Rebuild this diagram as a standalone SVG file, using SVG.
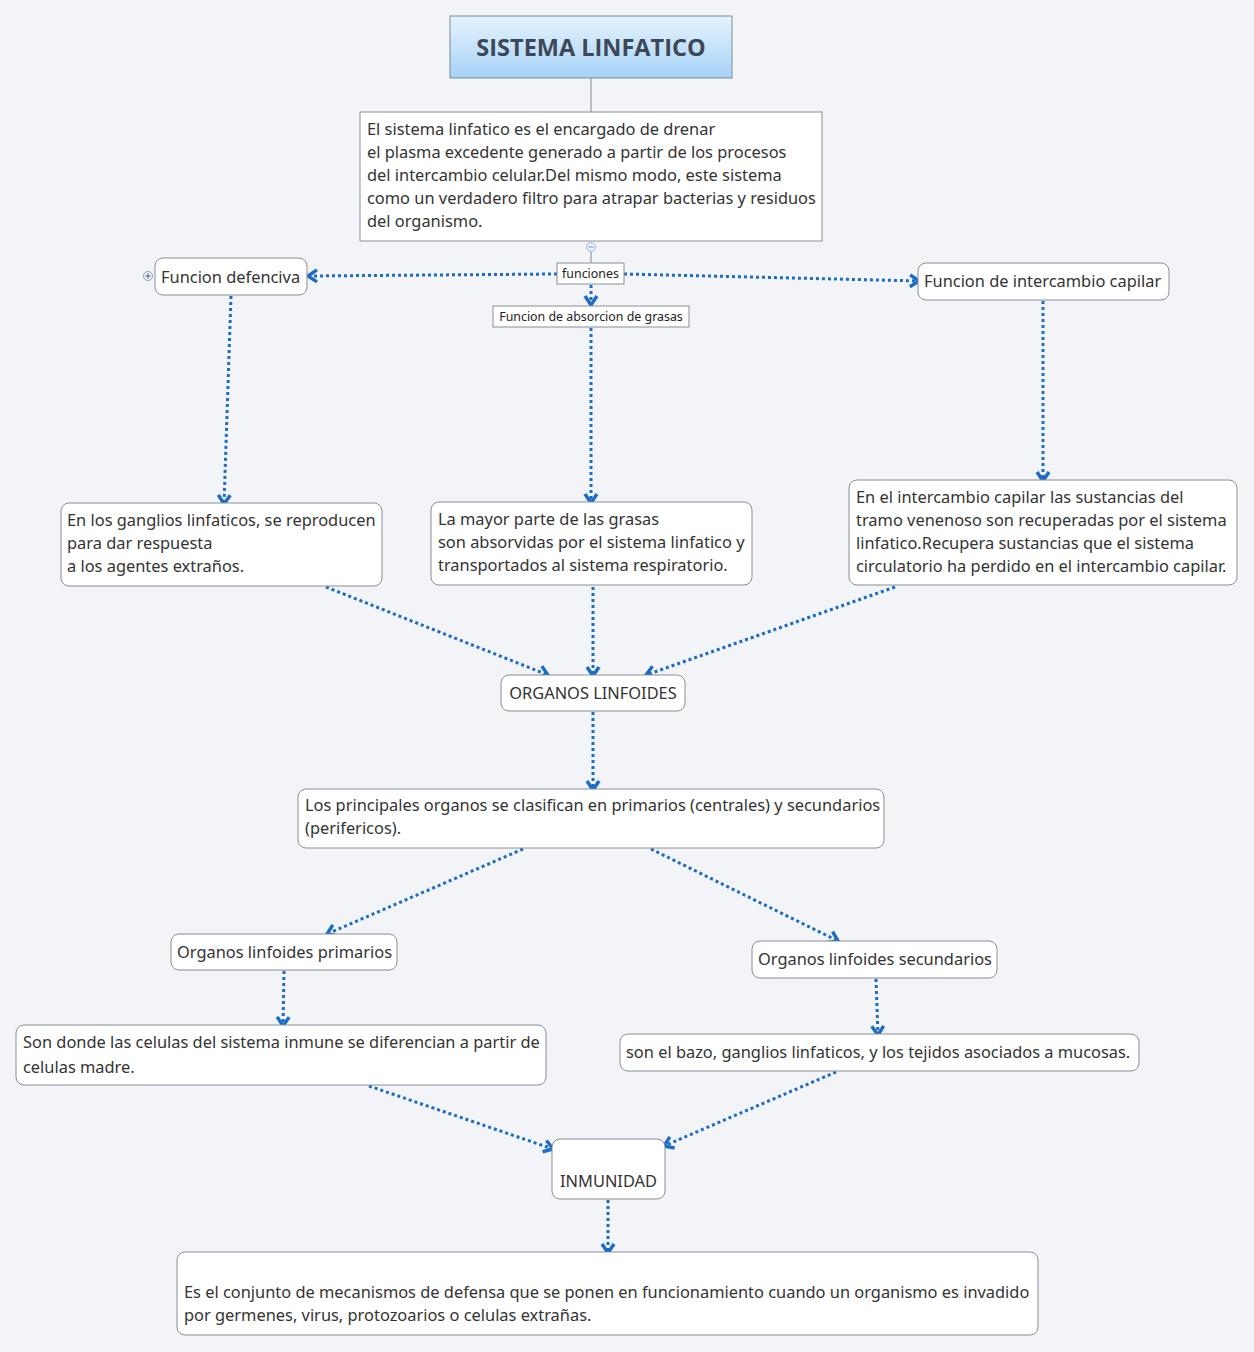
<svg xmlns="http://www.w3.org/2000/svg" width="1254" height="1352" viewBox="0 0 1254 1352">
<defs>
<linearGradient id="tg" x1="0" y1="0" x2="0" y2="1">
<stop offset="0" stop-color="#e6f3fd"/>
<stop offset="1" stop-color="#a6d2f7"/>
</linearGradient>
<marker id="ah" viewBox="0 0 16 16" refX="12" refY="8" markerWidth="16" markerHeight="16" markerUnits="userSpaceOnUse" orient="auto">
<path d="M3,2 L12,8 L3,14" fill="none" stroke="#1a6cc4" stroke-width="3.4" stroke-linejoin="miter" stroke-dasharray="none"/>
</marker>
</defs>
<style>
.bx{fill:#fff;stroke:#8a8f96;stroke-width:1}
.t{font-family:"Noto Sans","Open Sans",sans-serif;font-size:16.4px;fill:#333}
.s{font-family:"Noto Sans","Open Sans",sans-serif;font-size:12.4px;fill:#222}
.c{fill:none;stroke:#1a6cc4;stroke-width:3;stroke-dasharray:3 3;marker-end:url(#ah)}
.g{stroke:#888;stroke-width:1}
</style>
<rect width="1254" height="1352" fill="#f2f4f7"/>
<g id="connectors">
<line class="g" x1="591" y1="78" x2="591" y2="112"/>
<line class="g" x1="591" y1="252" x2="591" y2="263"/>
<circle cx="591" cy="247" r="4.5" fill="#e8f2fb" stroke="#9bb8d6"/>
<line x1="588.5" y1="247" x2="593.5" y2="247" stroke="#6b8fb5" stroke-width="1"/>
<path class="c" d="M557,274 L308,276"/>
<path class="c" d="M624,274 L919,281"/>
<path class="c" d="M591,285 L591,305"/>
<path class="c" d="M231,296 L224,504"/>
<path class="c" d="M591,328 L591,503"/>
<path class="c" d="M1043,301 L1043,481"/>
<path class="c" d="M326,587 L548,675"/>
<path class="c" d="M593,587 L593,676"/>
<path class="c" d="M895,587 L646,675"/>
<path class="c" d="M593,712 L593,790"/>
<path class="c" d="M523,849 L327,934"/>
<path class="c" d="M651,849 L838,941"/>
<path class="c" d="M284,971 L283,1026"/>
<path class="c" d="M876,979 L878,1035"/>
<path class="c" d="M369,1086 L553,1149"/>
<path class="c" d="M836,1072 L664,1146"/>
<path class="c" d="M608,1200 L608,1253"/>
</g>
<g id="title">
<rect x="450" y="16" width="282" height="62" fill="url(#tg)" stroke="#7d8b99"/>
<text x="591" y="56" text-anchor="middle" font-family="'Open Sans','Noto Sans',sans-serif" font-weight="bold" font-size="23.5" fill="#3c4857">SISTEMA LINFATICO</text>
</g>
<g id="desc">
<rect class="bx" x="360" y="112" width="462" height="129"/>
<text class="t" x="367" y="135">El sistema linfatico es el encargado de drenar</text>
<text class="t" x="367" y="158">el plasma excedente generado a partir de los procesos</text>
<text class="t" x="367" y="181">del intercambio celular.Del mismo modo, este sistema</text>
<text class="t" x="367" y="204">como un verdadero filtro para atrapar bacterias y residuos</text>
<text class="t" x="367" y="227">del organismo.</text>
</g>
<g id="funciones">
<rect class="bx" x="557" y="263" width="67" height="21"/>
<text class="s" x="590.5" y="278" text-anchor="middle">funciones</text>
</g>
<g id="absorcion">
<rect class="bx" x="493" y="306" width="196" height="21"/>
<text class="s" x="591" y="321" text-anchor="middle">Funcion de absorcion de grasas</text>
</g>
<g id="defenciva">
<circle cx="148" cy="276" r="4.5" fill="#eef3f8" stroke="#8aa0b8"/>
<line x1="145.5" y1="276" x2="150.5" y2="276" stroke="#556" stroke-width="1"/>
<line x1="148" y1="273.5" x2="148" y2="278.5" stroke="#556" stroke-width="1"/>
<rect class="bx" x="155" y="258" width="152" height="37" rx="8"/>
<text class="t" x="161" y="283">Funcion defenciva</text>
</g>
<g id="capilar">
<rect class="bx" x="918" y="263" width="251" height="37" rx="8"/>
<text class="t" x="924" y="287">Funcion de intercambio capilar</text>
</g>
<g id="ganglios">
<rect class="bx" x="61" y="503" width="321" height="83" rx="8"/>
<text class="t" x="67" y="526">En los ganglios linfaticos, se reproducen</text>
<text class="t" x="67" y="549">para dar respuesta</text>
<text class="t" x="67" y="572">a los agentes extraños.</text>
</g>
<g id="grasas">
<rect class="bx" x="431" y="502" width="321" height="83" rx="8"/>
<text class="t" x="438" y="525">La mayor parte de las grasas</text>
<text class="t" x="438" y="548">son absorvidas por el sistema linfatico y</text>
<text class="t" x="438" y="571">transportados al sistema respiratorio.</text>
</g>
<g id="intercambio">
<rect class="bx" x="849" y="480" width="388" height="105" rx="8"/>
<text class="t" x="856" y="503">En el intercambio capilar las sustancias del</text>
<text class="t" x="856" y="526">tramo venenoso son recuperadas por el sistema</text>
<text class="t" x="856" y="549">linfatico.Recupera sustancias que el sistema</text>
<text class="t" x="856" y="572">circulatorio ha perdido en el intercambio capilar.</text>
</g>
<g id="organos">
<rect class="bx" x="501" y="675" width="184" height="36" rx="8"/>
<text class="t" x="593" y="699" text-anchor="middle">ORGANOS LINFOIDES</text>
</g>
<g id="principales">
<rect class="bx" x="298" y="789" width="586" height="59" rx="8"/>
<text class="t" x="305" y="811">Los principales organos se clasifican en primarios (centrales) y secundarios</text>
<text class="t" x="305" y="834">(perifericos).</text>
</g>
<g id="primarios">
<rect class="bx" x="171" y="934" width="226" height="36" rx="8"/>
<text class="t" x="177" y="958">Organos linfoides primarios</text>
</g>
<g id="secundarios">
<rect class="bx" x="752" y="941" width="245" height="37" rx="8"/>
<text class="t" x="758" y="965">Organos linfoides secundarios</text>
</g>
<g id="celulas">
<rect class="bx" x="16" y="1025" width="530" height="60" rx="8"/>
<text class="t" x="23" y="1048">Son donde las celulas del sistema inmune se diferencian a partir de</text>
<text class="t" x="23" y="1073">celulas madre.</text>
</g>
<g id="bazo">
<rect class="bx" x="620" y="1034" width="519" height="37" rx="8"/>
<text class="t" x="626" y="1058">son el bazo, ganglios linfaticos, y los tejidos asociados a mucosas.</text>
</g>
<g id="inmunidad">
<rect class="bx" x="552" y="1139" width="113" height="60" rx="8"/>
<text class="t" x="608.5" y="1187" text-anchor="middle">INMUNIDAD</text>
</g>
<g id="conjunto">
<rect class="bx" x="177" y="1252" width="861" height="83" rx="8"/>
<text class="t" x="184" y="1298">Es el conjunto de mecanismos de defensa que se ponen en funcionamiento cuando un organismo es invadido</text>
<text class="t" x="184" y="1321">por germenes, virus, protozoarios o celulas extrañas.</text>
</g>
</svg>
